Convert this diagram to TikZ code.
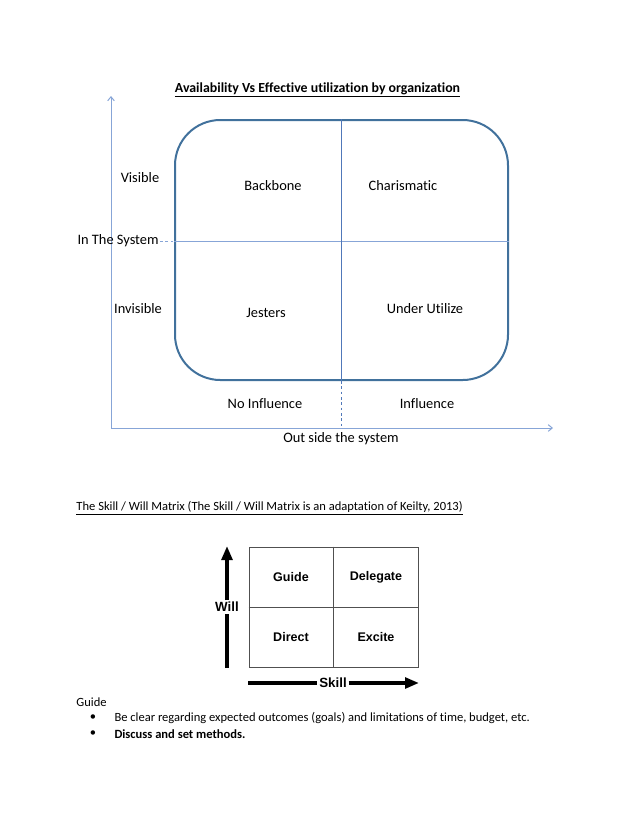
\documentclass[tikz,border=0pt]{standalone}
\usepackage{fontspec}
\setmainfont{Carlito}[Ligatures=NoCommon]
\newfontfamily\arialfont{Liberation Sans}
\usetikzlibrary{arrows.meta}

\definecolor{axisblue}{RGB}{135,165,215}
\definecolor{boxblue}{RGB}{65,113,156}
\definecolor{lineblue}{RGB}{80,120,185}
\definecolor{gridgrey}{RGB}{80,80,80}

\tikzset{every picture/.style={line width=0.75pt}}
\tikzset{
  lbl/.style={inner sep=0.75pt, font=\fontsize{10.8}{12}\selectfont},
  doc/.style={inner sep=0.75pt, anchor=west, font=\fontsize{9.4}{11}\selectfont},
  cell/.style={inner sep=0.75pt, font=\arialfont\bfseries\fontsize{9.4}{11}\selectfont},
  bigarrow/.style={line width=3pt, -{Triangle[length=10.5pt,width=8pt]}},
}

\begin{document}
\begin{tikzpicture}[x=0.75pt,y=0.75pt,yscale=-1,xscale=1]
\useasboundingbox (0,0) rectangle (638,826);

% Title
\draw (317.5,90) node [inner sep=0.75pt, font=\bfseries\fontsize{10.4}{12}\selectfont] (title) {\underline{Availability Vs Effective utilization by organization}};

% Axes
\coordinate (org) at (111,428);
\coordinate (ytop) at (111,96);
\coordinate (xend) at (553,428);
\draw [axisblue, -{Straight Barb[length=3pt,width=5pt]}] (org) -- (ytop);
\draw [axisblue, -{Straight Barb[length=3pt,width=5pt]}] (org) -- (xend);

% Rounded box
\draw (341.5,250) node [draw=boxblue, line width=1.5pt, rounded corners=34pt, minimum width=249.75pt, minimum height=195pt, inner sep=0pt] (box) {};

% Text Node
\draw (76,241) node [lbl, anchor=west] (sys) {In The System};
% Dividers
\draw [axisblue, dash pattern={on 2pt off 2pt}] (sys.east) -- (box.west |- sys.east);
\draw [axisblue] (box.west |- sys.east) -- (box.east |- sys.east);
\draw [lineblue] (box.north) -- (box.south);
\draw [lineblue, dash pattern={on 2pt off 2pt}] (box.south) -- (box.south |- org);

% Text Node
\draw (140,178) node [lbl] (visible) {Visible};
\draw (138,309) node [lbl] (invisible) {Invisible};
\draw (273,186) node [lbl] (backbone) {Backbone};
\draw (403,186) node [lbl] (charismatic) {Charismatic};
\draw (266,313) node [lbl] (jesters) {Jesters};
\draw (425,309) node [lbl] (underutil) {Under Utilize};
\draw (265,404) node [lbl] (noinfl) {No Influence};
\draw (427,404) node [lbl] (infl) {Influence};
\draw (341,439) node [lbl] (outside) {Out side the system};

% Skill / Will caption
\draw (75,508) node [doc] (swtitle) {\underline{The Skill / Will Matrix (The Skill / Will Matrix is an adaptation of Keilty, 2013)}};

% Matrix
\draw (333.5,607) node [draw=gridgrey, minimum width=126.75pt, minimum height=90pt, inner sep=0pt] (mat) {};
\draw [gridgrey] (mat.north) -- (mat.south);
\draw [gridgrey] (mat.west) -- (mat.east);
\draw (291,577) node [cell] (guide) {Guide};
\draw (376,577) node [cell] (delegate) {Delegate};
\draw (291,637) node [cell] (direct) {Direct};
\draw (376,637) node [cell] (excite) {Excite};

% Will arrow
\draw (227,607) node [inner sep=1pt, font=\arialfont\bfseries\fontsize{10}{12}\selectfont] (will) {Will};
\coordinate (willbot) at (227,668);
\coordinate (willtop) at (227,546);
\draw [line width=3pt] (willbot) -- (will.south);
\draw [bigarrow] (will.north) -- (willtop);

% Skill arrow
\draw (333,683) node [inner sep=1pt, font=\arialfont\bfseries\fontsize{10}{12}\selectfont] (skill) {Skill};
\coordinate (skillbeg) at (248,683);
\coordinate (skillend) at (419,683);
\draw [line width=3pt] (skillbeg) -- (skill.west);
\draw [bigarrow] (skill.east) -- (skillend);

% Guide list
\draw (75,702) node [doc] (guidehd) {Guide};
\draw (93,718) node [doc, anchor=center] (b1) {\textbullet};
\draw (113,718) node [doc] (item1) {Be clear regarding expected outcomes (goals) and limitations of time, budget, etc.};
\draw (93,734) node [doc, anchor=center] (b2) {\textbullet};
\draw (113,734) node [doc, font=\bfseries\fontsize{9.4}{11}\selectfont] (item2) {Discuss and set methods.};

\end{tikzpicture}
\end{document}
